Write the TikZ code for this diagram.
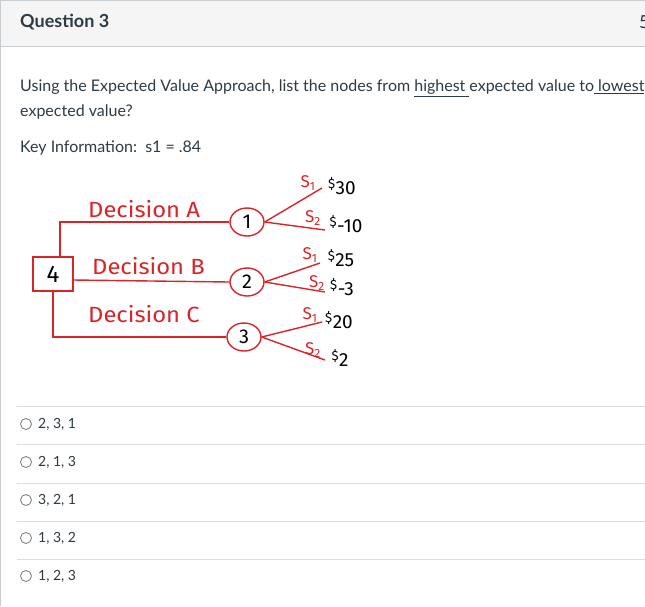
\documentclass[tikz,border=0pt]{standalone}
\usepackage{fontspec}
\setmainfont{Lato}
\newfontfamily\hand{Fira Sans}
\usetikzlibrary{shapes.geometric}
\definecolor{penred}{RGB}{218,36,40}
\definecolor{txt}{RGB}{45,59,69}
\definecolor{hdr}{RGB}{245,245,245}
\definecolor{frame}{RGB}{199,205,209}
\definecolor{sep}{RGB}{221,221,221}
\definecolor{radio}{RGB}{120,120,120}
\begin{document}
\begin{tikzpicture}[x=1pt,y=-1pt,
  pen/.style={draw=penred, line width=1.4pt},
  dlabel/.style={text=penred, font=\hand\fontsize{22}{22}\selectfont, xscale=1.08, anchor=west, inner sep=0pt},
  slabel/.style={text=penred, font=\hand\fontsize{17}{17}\selectfont, inner sep=0pt},
  vlabel/.style={text=black, font=\hand\fontsize{19}{19}\selectfont, inner sep=0pt},
  cnode/.style={ellipse, pen, minimum width=34pt, minimum height=28pt, inner sep=0pt, font=\hand\fontsize{20}{20}\selectfont},
  qtext/.style={anchor=west, text=txt, font=\fontsize{16}{16}\selectfont, inner sep=0pt},
  otext/.style={anchor=west, text=txt, font=\fontsize{14}{14}\selectfont, inner sep=0pt},
  sepline/.style={draw=sep, line width=1pt},
  radiob/.style={circle, draw=radio, line width=0.8pt, minimum size=11pt, inner sep=0pt}
]
\useasboundingbox (0,0) rectangle (645,606);
\fill[white] (0,0) rectangle (645,606);
\fill[hdr] (0,0) rectangle (645,46);
\draw[frame, line width=1pt] (0,0.5) -- (645,0.5);
\draw[frame, line width=1pt] (0,46) -- (645,46);
\draw[frame, line width=1pt] (0.5,0) -- (0.5,606);
\node[anchor=west, text=txt, font=\bfseries\fontsize{18}{18}\selectfont, inner sep=0pt] (title) at (20,22) {Question 3};
\node[anchor=west, text=txt, font=\fontsize{18}{18}\selectfont, inner sep=0pt] (pts) at (639,22) {5};

\node[qtext] (q1) at (20,88) {Using the Expected Value Approach, list the nodes from \underline{highest\ }expected value to\underline{\ lowest}};
\node[qtext] (q2) at (20,112) {expected value?};
\node[qtext] (key) at (20,148) {Key Information:\ \ s1 = .84};

% decision tree
\node[pen, minimum width=40pt, minimum height=34pt, inner sep=0pt, font=\hand\fontsize{24}{24}\selectfont] (b4) at (53,274) {4};
\node[cnode] (c1) at (247,222) {1};
\node[cnode] (c2) at (247,282) {2};
\node[cnode] (c3) at (244,337) {3};

\draw[pen] ([xshift=7pt]b4.north) |- (c1.west);
\draw[pen] ([yshift=-6pt]b4.east) -- (c2.west);
\draw[pen] (b4.south) |- (c3.west);

\node[dlabel] (da) at (88,209) {Decision A};
\node[dlabel] (db) at (92,266) {Decision B};
\node[dlabel] (dc) at (88,314) {Decision C};

\coordinate (l1a) at (322,188);
\coordinate (l1b) at (325,230);
\coordinate (l2a) at (320,263);
\coordinate (l2b) at (325,292);
\coordinate (l3a) at (322,322);
\coordinate (l3b) at (325,360);
\draw[pen] (c1.east) -- (l1a);
\draw[pen] (c1.east) -- (l1b);
\draw[pen] (c2.east) -- (l2a);
\draw[pen] (c2.east) -- (l2b);
\draw[pen] (c3.east) -- (l3a);
\draw[pen] (c3.east) -- (l3b);

\node[slabel] (s1a) at (308,183) {S\textsubscript{1}};
\node[slabel] (s2a) at (313,218) {S\textsubscript{2}};
\node[slabel] (s1b) at (310,255) {S\textsubscript{1}};
\node[slabel] (s2b) at (317,283) {S\textsubscript{2}};
\node[slabel] (s1c) at (310,315) {S\textsubscript{1}};
\node[slabel] (s2c) at (313,350) {S\textsubscript{2}};

\node[vlabel] (v1a) at (342,186) {\textsuperscript{\$}30};
\node[vlabel] (v2a) at (346,224) {\textsuperscript{\$}-10};
\node[vlabel] (v1b) at (341,258) {\textsuperscript{\$}25};
\node[vlabel] (v2b) at (342,287) {\textsuperscript{\$}-3};
\node[vlabel] (v1c) at (339,320) {\textsuperscript{\$}20};
\node[vlabel] (v2c) at (340,358) {\textsuperscript{\$}2};

% options
\foreach \yy in {406,444,483,521,559} \draw[sepline] (17,\yy) -- (645,\yy);
\node[radiob] (r1) at (26,424) {};
\node[radiob] (r2) at (26,462) {};
\node[radiob] (r3) at (26,500) {};
\node[radiob] (r4) at (26,538) {};
\node[radiob] (r5) at (26,576) {};
\node[otext] (o1) at (38,424) {2, 3, 1};
\node[otext] (o2) at (38,462) {2, 1, 3};
\node[otext] (o3) at (38,500) {3, 2, 1};
\node[otext] (o4) at (38,538) {1, 3, 2};
\node[otext] (o5) at (38,576) {1, 2, 3};
\end{tikzpicture}
\end{document}
